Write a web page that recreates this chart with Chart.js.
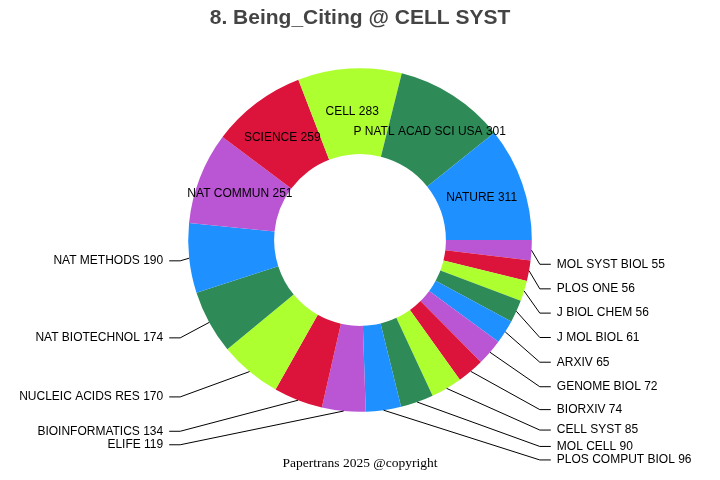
<!DOCTYPE html>
<html>
  <head>
    <style>
      body {
        margin: 0;
        background: #fff;
      }
      .wrap {
        width: 720px;
        height: 480px;
      }
    </style>
    <script src="https://cdn.jsdelivr.net/npm/chart.js"></script>
  </head>
  <body>
    <div class="wrap">
      <canvas id="citingChart" width="720" height="480"></canvas>
    </div>
    <script>
      // journals, smallest first, drawn clockwise from 3 o'clock
      var journals = ['MOL SYST BIOL', 'PLOS ONE', 'J BIOL CHEM', 'J MOL BIOL', 'ARXIV',
        'GENOME BIOL', 'BIORXIV', 'CELL SYST', 'MOL CELL', 'PLOS COMPUT BIOL',
        'ELIFE', 'BIOINFORMATICS', 'NUCLEIC ACIDS RES', 'NAT BIOTECHNOL', 'NAT METHODS',
        'NAT COMMUN', 'SCIENCE', 'CELL', 'P NATL ACAD SCI USA', 'NATURE'];
      var counts = [55, 56, 56, 61, 65, 72, 74, 85, 90, 96,
        119, 134, 170, 174, 190, 251, 259, 283, 301, 311];
      var palette = ['#BA55D3', '#DC143C', '#ADFF2F', '#2E8B57', '#1E90FF'];

      var sliceColors = counts.map(function(c, i) { return palette[i % palette.length]; });

      // labels inside big slices, leader lines for the small ones
      var sliceLabels = {
        id: 'sliceLabels',
        afterDatasetsDraw: function(chart) {
          var ctx = chart.ctx;
          var meta = chart.getDatasetMeta(0);
          var total = counts.reduce(function(a, b) { return a + b; }, 0);
          var right = [], left = [];
          ctx.save();
          ctx.font = '12px "Liberation Sans", Arial, sans-serif';
          ctx.fillStyle = '#000';
          ctx.strokeStyle = '#000';
          ctx.lineWidth = 1;
          ctx.textBaseline = 'middle';
          meta.data.forEach(function(arc, i) {
            var p = arc.getProps(['x', 'y', 'startAngle', 'endAngle', 'innerRadius', 'outerRadius'], true);
            var mid = (p.startAngle + p.endAngle) / 2;
            var text = journals[i] + ' ' + counts[i];
            if (counts[i] / total > 0.08) {
              var r = (p.innerRadius + p.outerRadius) / 2;
              ctx.textAlign = 'center';
              ctx.fillText(text, p.x + r * Math.cos(mid), p.y + r * Math.sin(mid));
            } else {
              var side = Math.cos(mid) >= 0 ? 1 : -1;
              var item = { text: text, mid: mid, p: p, side: side };
              item.y = p.y + 1.2 * p.outerRadius * Math.sin(mid) + (side > 0 ? 12 : -1);
              (side > 0 ? right : left).push(item);
            }
          });
          [right, left].forEach(function(list) {
            list.sort(function(a, b) { return a.y - b.y; });
            for (var k = 1; k < list.length; k++) {
              if (list[k].y < list[k - 1].y + 13.5) list[k].y = list[k - 1].y + 13.5;
            }
            list.forEach(function(it) {
              var p = it.p;
              var sx = p.x + p.outerRadius * Math.cos(it.mid);
              var sy = p.y + p.outerRadius * Math.sin(it.mid);
              var kx = p.x + it.side * (p.outerRadius + 8);
              var ex = kx + it.side * 11;
              ctx.beginPath();
              ctx.moveTo(sx, sy);
              ctx.lineTo(kx, it.y);
              ctx.lineTo(ex, it.y);
              ctx.stroke();
              ctx.textAlign = it.side > 0 ? 'left' : 'right';
              ctx.fillText(it.text, ex + it.side * 6, it.y);
            });
          });
          ctx.restore();
        }
      };

      var ctx = document.getElementById('citingChart').getContext('2d');
      var chart = new Chart(ctx, {
        type: 'doughnut',
        data: {
          labels: journals,
          datasets: [{
            data: counts,
            backgroundColor: sliceColors,
            borderWidth: 0,
            hoverOffset: 0
          }]
        },
        options: {
          responsive: false,
          animation: false,
          cutout: '50%',
          rotation: 90,
          events: [],
          plugins: {
            legend: { display: false },
            tooltip: { enabled: false },
            title: {
              display: true,
              text: '8. Being_Citing @ CELL SYST',
              color: '#444',
              font: { family: '"Liberation Sans", Arial, sans-serif', size: 21, weight: 'bold' },
              padding: { top: 6, bottom: 37 }
            },
            subtitle: {
              display: true,
              position: 'bottom',
              text: 'Papertrans 2025 @copyright',
              color: '#000',
              font: { family: '"Liberation Serif", "Times New Roman", serif', size: 13.5 },
              padding: { top: 44, bottom: 8 }
            }
          }
        },
        plugins: [sliceLabels]
      });
    </script>
  </body>
</html>
